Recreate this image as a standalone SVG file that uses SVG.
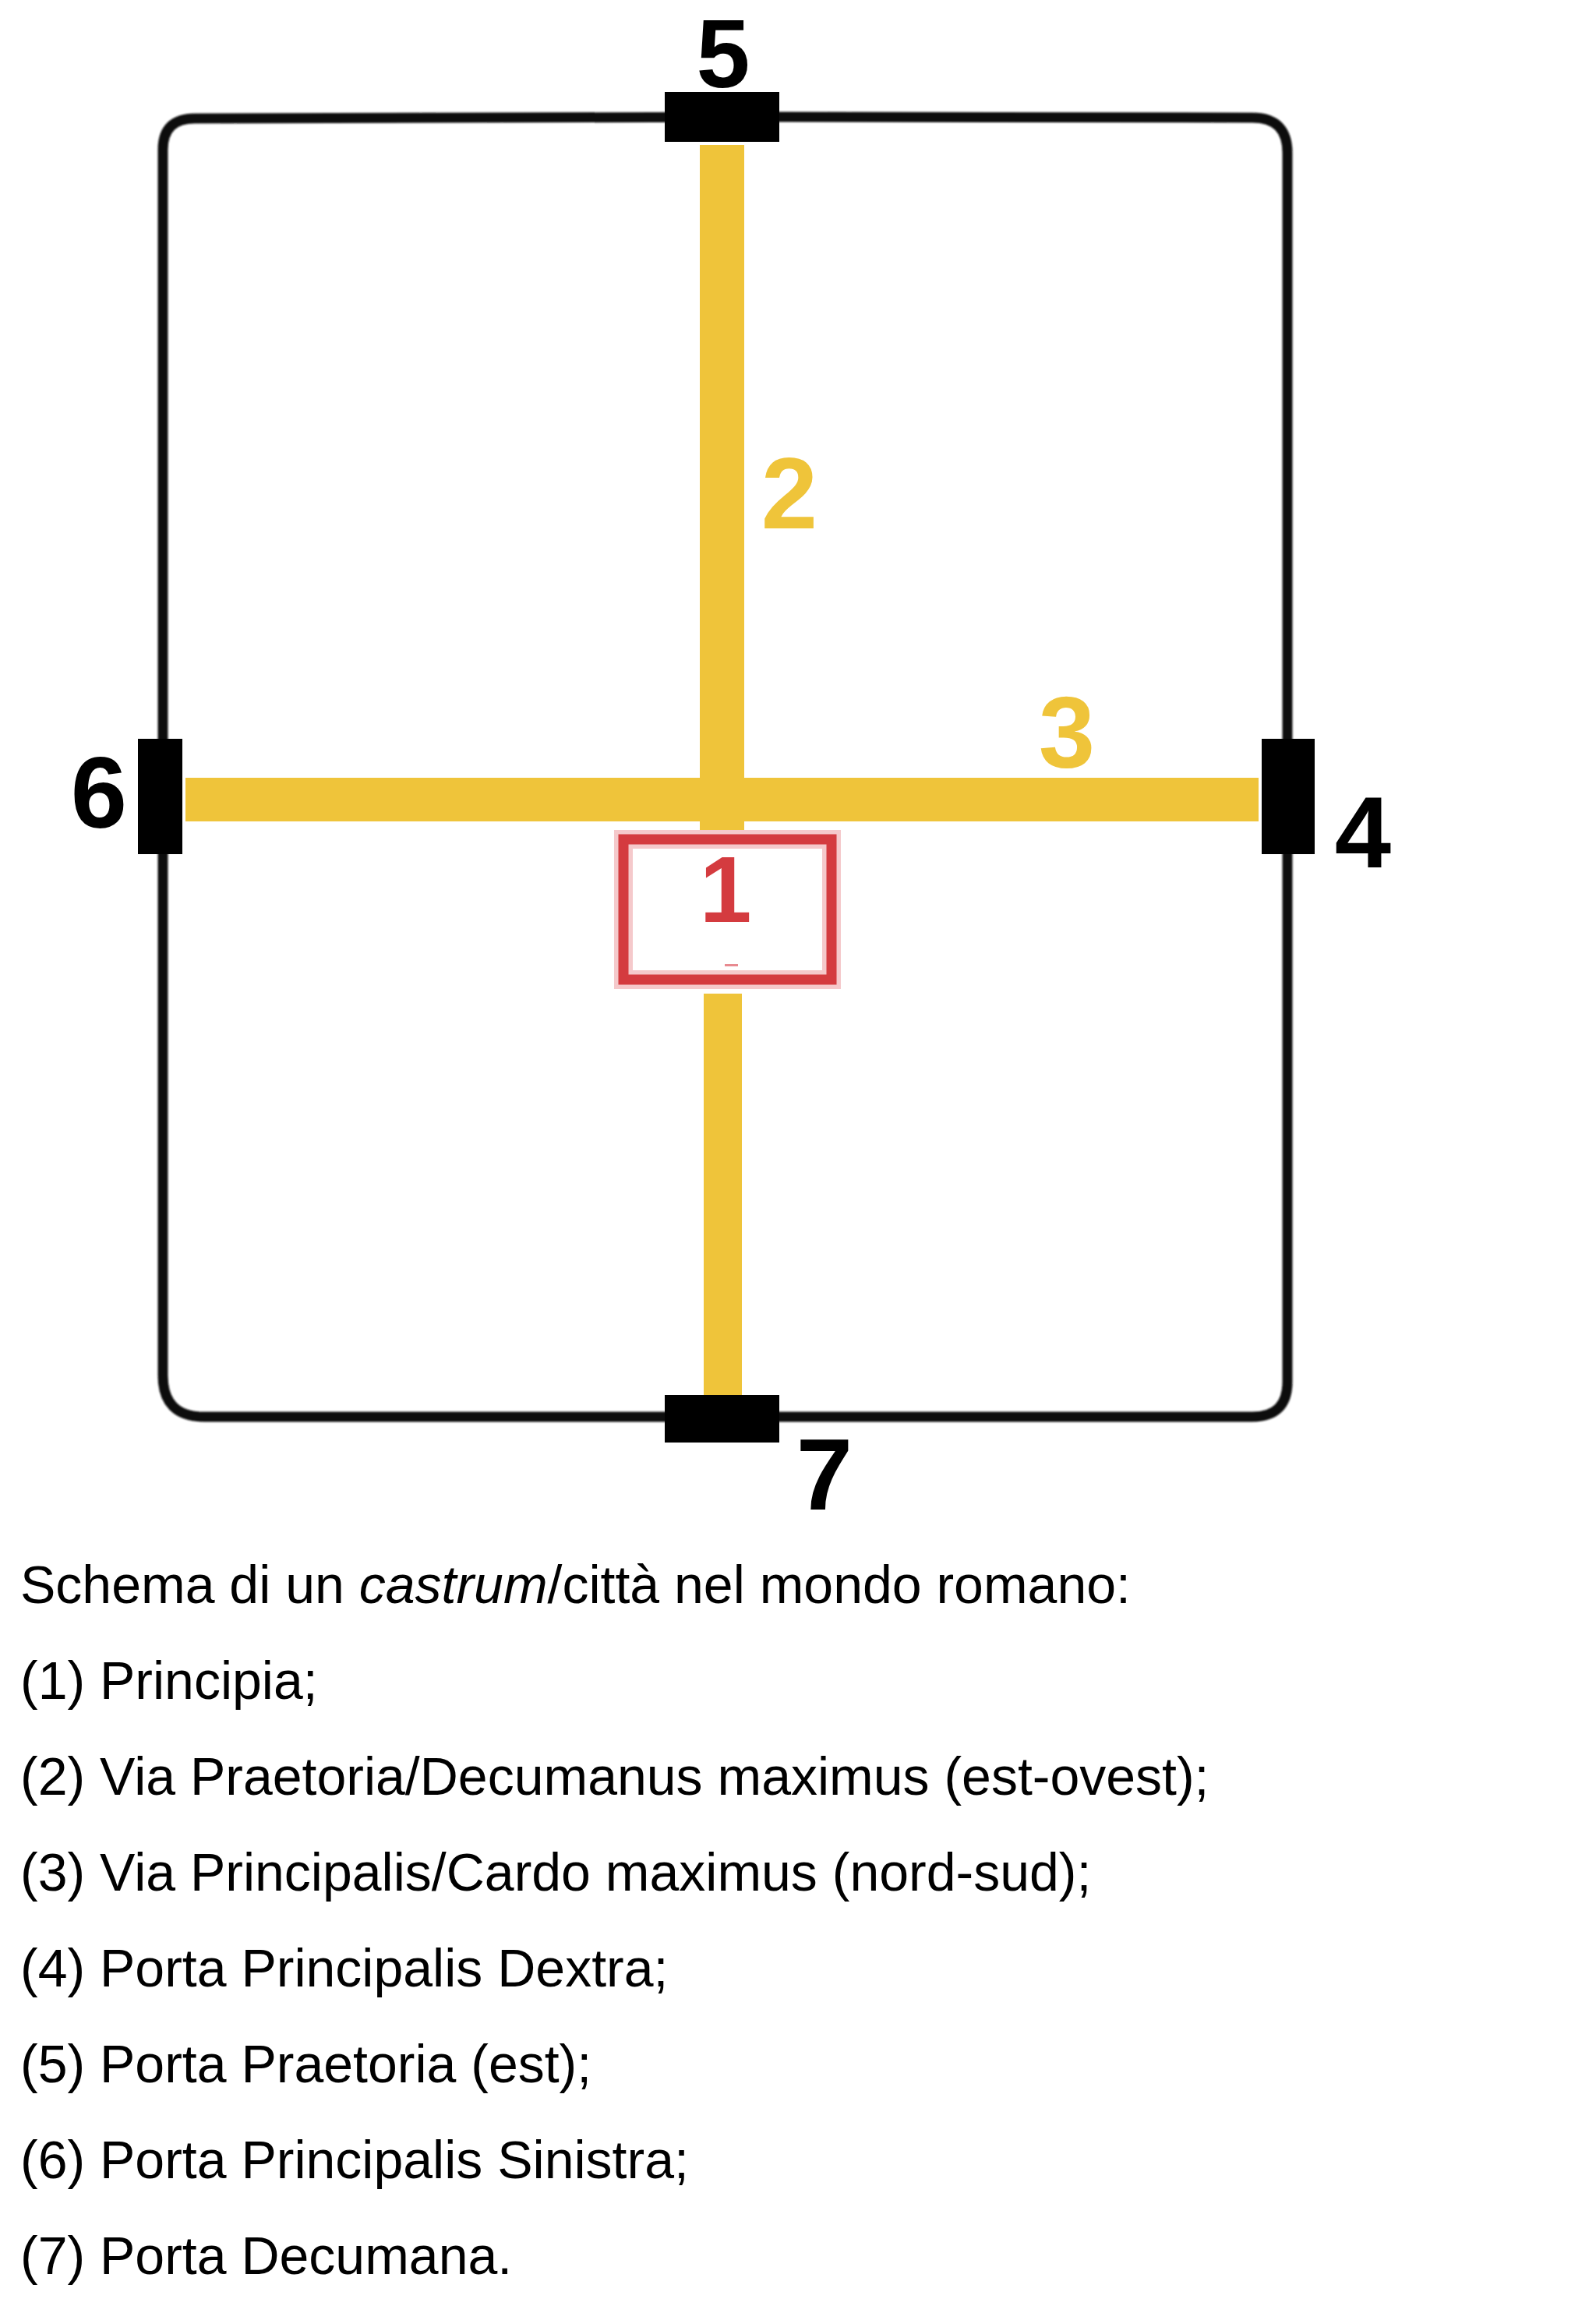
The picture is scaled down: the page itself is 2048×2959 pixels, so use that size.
<svg xmlns="http://www.w3.org/2000/svg" width="2048" height="2959" viewBox="0 0 2048 2959">
  <style>
    .wall { fill: none; stroke: #111; stroke-width: 13; stroke-linejoin: round; }
    .gate { fill: #000; }
    .road { fill: #EFC43A; }
    .num { font-family: "Liberation Sans", Arial, sans-serif; font-weight: bold; font-size: 130px; text-anchor: middle; }
    .blk { fill: #000; }
    .yel { fill: #EFC43A; }
    .cap { font-family: "Liberation Sans", Arial, sans-serif; font-size: 68px; fill: #000; }
  </style>
  <defs>
    <filter id="soft" x="-5%" y="-5%" width="110%" height="110%">
      <feGaussianBlur stdDeviation="1.2"/>
    </filter>
  </defs>
  <rect x="0" y="0" width="2048" height="2959" fill="#fff"/>

  <g id="wall">
    <path class="wall" filter="url(#soft)" d="M 250 152 L 1000 150 L 1607 151 Q 1652 151 1652 196 L 1652 1773 Q 1652 1818 1607 1818 L 262 1818 Q 209 1818 209 1765 L 209 192 Q 209 152 250 152 Z"/>
  </g>

  <g id="connectors">
    <rect id="road-2-top" class="road" x="898" y="186" width="57" height="879"/>
    <rect id="road-3" class="road" x="238" y="998" width="1377" height="56"/>
    <rect id="road-2-bottom" class="road" x="903" y="1275" width="49" height="515"/>
  </g>

  <g id="node-1">
    <rect x="800" y="1077" width="267" height="180" fill="none" stroke="#F5C9CB" stroke-width="24"/>
    <rect x="800" y="1077" width="267" height="180" fill="none" stroke="#D43B3F" stroke-width="13"/>
    <rect x="930" y="1237" width="17" height="3" fill="#E88A90"/>
    <text class="num" x="931" y="1183" fill="#D43B3F" style="font-size:120px">1</text>
  </g>

  <g id="gate-5">
    <rect class="gate" x="853" y="118" width="147" height="64"/>
    <text class="num blk" x="928" y="112" style="font-size:124px">5</text>
  </g>

  <g id="gate-6">
    <rect class="gate" x="177" y="948" width="57" height="148"/>
    <text class="num blk" x="127" y="1062">6</text>
  </g>

  <g id="gate-4">
    <rect class="gate" x="1619" y="948" width="68" height="148"/>
    <text class="num blk" x="1749" y="1113">4</text>
  </g>

  <g id="gate-7">
    <rect class="gate" x="853" y="1790" width="147" height="61"/>
    <text class="num blk" x="1058" y="1937">7</text>
  </g>

  <g id="label-2">
    <text class="num yel" x="1013" y="678">2</text>
  </g>
  <g id="label-3">
    <text class="num yel" x="1369" y="985">3</text>
  </g>

  <g id="legend">
    <text class="cap" x="26" y="2057">Schema di un <tspan font-style="italic">castrum</tspan>/città nel mondo romano:</text>
    <text class="cap" x="26" y="2180">(1) Principia;</text>
    <text class="cap" x="26" y="2303">(2) Via Praetoria/Decumanus maximus (est-ovest);</text>
    <text class="cap" x="26" y="2426">(3) Via Principalis/Cardo maximus (nord-sud);</text>
    <text class="cap" x="26" y="2549">(4) Porta Principalis Dextra;</text>
    <text class="cap" x="26" y="2672">(5) Porta Praetoria (est);</text>
    <text class="cap" x="26" y="2795">(6) Porta Principalis Sinistra;</text>
    <text class="cap" x="26" y="2918">(7) Porta Decumana.</text>
  </g>
</svg>
